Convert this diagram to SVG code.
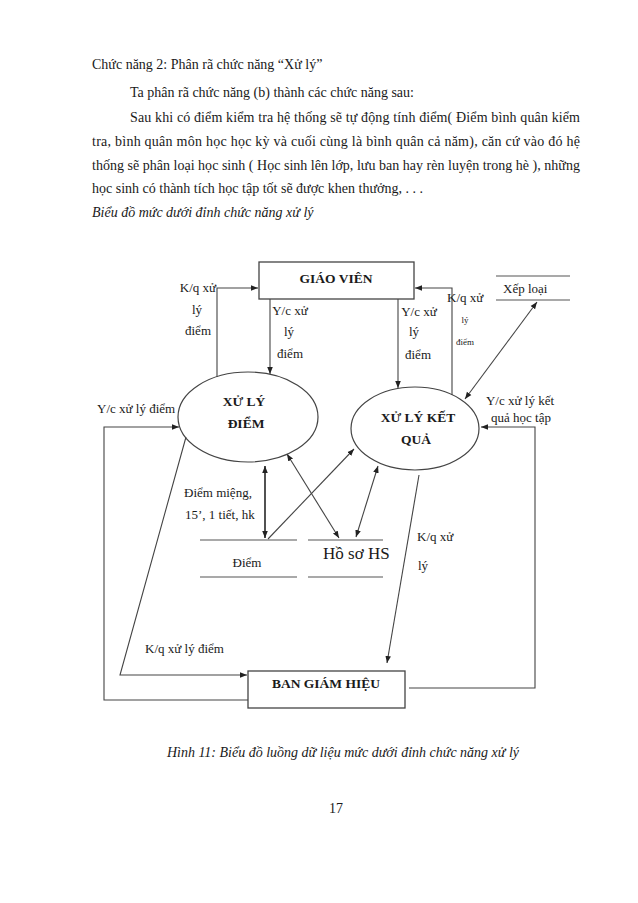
<svg xmlns="http://www.w3.org/2000/svg" width="638" height="903" viewBox="0 0 638 903">
<defs>
<style>
text{font-family:"Liberation Serif","Times New Roman",serif;fill:#1a1a1a}
.body{font-size:14px}
.lbl{font-size:13px}
.sm{font-size:9px}
.b{font-weight:bold;font-size:13.5px}
.it{font-style:italic}
.ln{stroke:#444;stroke-width:1.1;fill:none}
.box{stroke:#444;stroke-width:1.3;fill:#fff}
.st{stroke:#555;stroke-width:1.2}
</style>
<marker id="ah" viewBox="0 0 10 10" refX="10" refY="5" markerWidth="7" markerHeight="7" orient="auto-start-reverse" markerUnits="userSpaceOnUse">
<path d="M0,1 L10,5 L0,9 z" fill="#222"/>
</marker>
</defs>
<rect width="638" height="903" fill="#fff"/>

<g id="page-text" class="body">
<text x="92" y="69">Chức năng 2: Phân rã chức năng “Xử lý”</text>
<text x="130" y="97">Ta phân rã chức năng (b) thành các chức năng sau:</text>
<text x="130" y="122" textLength="450" lengthAdjust="spacing">Sau khi có điểm kiểm tra hệ thống sẽ tự động tính điểm( Điểm bình quân kiểm</text>
<text x="92" y="146" textLength="488" lengthAdjust="spacing">tra, bình quân môn học học kỳ và cuối cùng là bình quân cả năm), căn cứ vào đó hệ</text>
<text x="92" y="170" textLength="488" lengthAdjust="spacing">thống sẽ phân loại học sinh ( Học sinh lên lớp, lưu ban hay rèn luyện trong hè ), những</text>
<text x="92" y="193">học sinh có thành tích học tập tốt sẽ được khen thưởng, . . .</text>
<text x="92" y="217" class="it">Biểu đồ mức dưới đỉnh chức năng xử lý</text>
</g>

<g id="connectors">
<!-- top-left K/q xu ly diem -->
<polyline class="ln" points="217,377 217,288 258,288" marker-end="url(#ah)"/>
<!-- top-left Y/c xu ly diem -->
<line class="ln" x1="270" y1="299" x2="270" y2="374" marker-end="url(#ah)"/>
<!-- top-right Y/c xu ly diem -->
<line class="ln" x1="398" y1="299" x2="398" y2="388" marker-end="url(#ah)"/>
<!-- top-right K/q xu ly diem -->
<polyline class="ln" points="452,395 452,288 415,288" marker-end="url(#ah)"/>
<!-- Xep loai double -->
<line class="ln" x1="465" y1="399" x2="537" y2="302" marker-start="url(#ah)" marker-end="url(#ah)"/>
<!-- Y/c xu ly ket qua hoc tap -->
<polyline class="ln" points="409,688 535,688 535,427 481,427" marker-end="url(#ah)"/>
<!-- left Y/c xu ly diem -->
<polyline class="ln" points="248,700 104,700 104,427 179,427" marker-end="url(#ah)"/>
<!-- bottom-left K/q xu ly diem -->
<polyline class="ln" points="186,437 120,675 247,675" marker-end="url(#ah)"/>
<!-- bottom-right K/q xu ly -->
<line class="ln" x1="419" y1="475" x2="387" y2="663" marker-end="url(#ah)"/>
<!-- middle arrows -->
<line x1="265" y1="466" x2="265" y2="538" stroke="#333" stroke-width="1.7" marker-start="url(#ah)" marker-end="url(#ah)"/>
<line class="ln" x1="268" y1="539" x2="354" y2="449" marker-end="url(#ah)"/>
<line class="ln" x1="287" y1="454" x2="339" y2="538" marker-start="url(#ah)" marker-end="url(#ah)"/>
<line class="ln" x1="378" y1="466" x2="356" y2="537" marker-start="url(#ah)" marker-end="url(#ah)"/>
</g>

<g id="labels" class="lbl">
<text x="198" y="292" text-anchor="middle">K/q xử</text>
<text x="197" y="314" text-anchor="middle">lý</text>
<text x="198" y="335" text-anchor="middle">điểm</text>
<text x="290" y="315" text-anchor="middle">Y/c xử</text>
<text x="289" y="336" text-anchor="middle">lý</text>
<text x="290" y="358" text-anchor="middle">điểm</text>
<text x="419" y="316" text-anchor="middle">Y/c xử</text>
<text x="414" y="336" text-anchor="middle">lý</text>
<text x="418" y="359" text-anchor="middle">điểm</text>
<text x="447" y="302">K/q xử</text>
<text x="465" y="323" text-anchor="middle" class="sm">lý</text>
<text x="465" y="345" text-anchor="middle" class="sm">điểm</text>
<text x="97" y="413">Y/c xử lý điểm</text>
<text x="520" y="405" text-anchor="middle">Y/c xử lý kết</text>
<text x="521" y="422" text-anchor="middle">quả học tập</text>
<text x="184" y="497">Điểm miệng,</text>
<text x="185" y="519">15’, 1 tiết, hk</text>
<text x="417" y="541">K/q xử</text>
<text x="418" y="570">lý</text>
<text x="145" y="653">K/q xử lý điểm</text>
</g>

<g id="giao-vien">
<rect class="box" x="259" y="262" width="155" height="37"/>
<text class="b" x="336" y="283" text-anchor="middle">GIÁO VIÊN</text>
</g>

<g id="xep-loai">
<line class="st" x1="496" y1="276" x2="570" y2="276"/>
<line class="st" x1="496" y1="300" x2="570" y2="300"/>
<text class="lbl" x="503" y="293">Xếp loại</text>
</g>

<g id="xu-ly-diem">
<ellipse cx="248" cy="417" rx="70" ry="45" fill="none" stroke="#444" stroke-width="1.2"/>
<text class="b" x="244" y="406" text-anchor="middle">XỬ LÝ</text>
<text class="b" x="246" y="428" text-anchor="middle">ĐIỂM</text>
</g>

<g id="xu-ly-ket-qua">
<ellipse cx="415" cy="428.5" rx="64" ry="41.5" fill="none" stroke="#444" stroke-width="1.2"/>
<text class="b" x="418" y="422" text-anchor="middle">XỬ LÝ KẾT</text>
<text class="b" x="416" y="444" text-anchor="middle">QUẢ</text>
</g>

<g id="diem-store">
<line class="st" x1="200" y1="540" x2="297" y2="540"/>
<line class="st" x1="200" y1="577" x2="297" y2="577"/>
<text class="lbl" x="247" y="567" text-anchor="middle">Điểm</text>
</g>

<g id="ho-so-hs">
<line class="st" x1="308" y1="540" x2="383" y2="540"/>
<line class="st" x1="308" y1="577" x2="383" y2="577"/>
<text x="323" y="559" font-size="17">Hồ sơ HS</text>
</g>

<g id="ban-giam-hieu">
<rect class="box" x="248" y="671" width="157" height="37"/>
<text class="b" x="326" y="688" text-anchor="middle">BAN GIÁM HIỆU</text>
</g>

<g id="caption">
<text class="body it" x="343" y="757" text-anchor="middle">Hình 11: Biểu đồ luồng dữ liệu mức dưới đỉnh chức năng xử lý</text>
<text class="body" x="336" y="813" text-anchor="middle">17</text>
</g>
</svg>
